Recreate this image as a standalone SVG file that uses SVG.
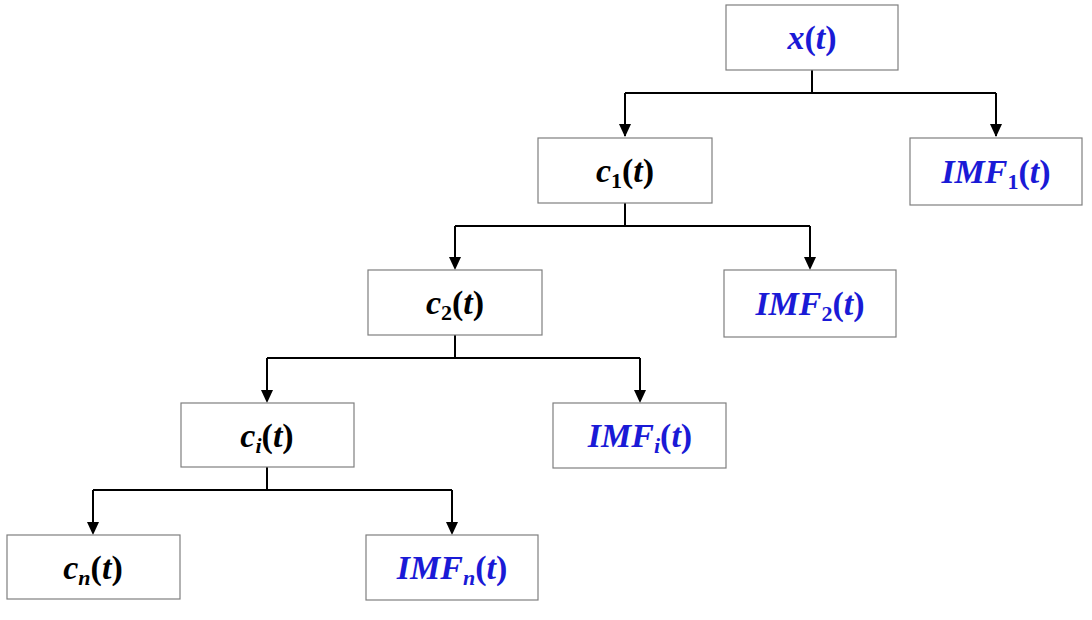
<svg xmlns="http://www.w3.org/2000/svg" width="1092" height="620" viewBox="0 0 1092 620">
<style>
.box{fill:#fff;stroke:#7f7f7f;stroke-width:1.2}
.t{font-family:"Liberation Serif",serif;font-size:34px;font-weight:bold;text-anchor:middle}
.b{fill:#1a1ad6}.k{fill:#000}
.i{font-style:italic}
.s{font-size:22px}
.ln{fill:none;stroke:#000;stroke-width:2}
</style>
<defs><marker id="a" markerWidth="10" markerHeight="12" refX="5" refY="12" orient="auto-start-reverse" markerUnits="userSpaceOnUse" viewBox="0 0 10 12"><path d="M0,0L10,0L5,12z" fill="#000" transform="rotate(0)"/></marker></defs>
<g id="connectors">
<path class="ln" d="M812,70V93M625,93H996M625,93V136M996,93V136"/>
<path class="ln" d="M625,203V226M455,226H810M455,226V268M810,226V268"/>
<path class="ln" d="M455,335V358M267,358H640M267,358V401M640,358V401"/>
<path class="ln" d="M267,467V490M93,490H452M93,490V533M452,490V533"/>
<g fill="#000"><path d="M619,124H631L625,137z"/><path d="M990,124H1002L996,137z"/><path d="M449,257H461L455,270z"/><path d="M804,257H816L810,270z"/><path d="M261,390H273L267,403z"/><path d="M634,390H646L640,403z"/><path d="M87,522H99L93,535z"/><path d="M446,522H458L452,535z"/></g>
</g>
<g id="n_x"><rect class="box" x="726" y="5" width="172" height="65"/><text class="t b" x="812" y="49"><tspan class="i">x</tspan>(<tspan class="i">t</tspan>)</text></g>
<g id="n_c1"><rect class="box" x="538" y="138" width="174" height="65"/><text class="t k" x="625" y="182"><tspan class="i">c</tspan><tspan class="s" dy="6">1</tspan><tspan dy="-6">(</tspan><tspan class="i">t</tspan>)</text></g>
<g id="n_imf1"><rect class="box" x="910" y="138" width="172" height="67"/><text class="t b" x="996" y="183"><tspan class="i">IMF</tspan><tspan class="s" dy="6">1</tspan><tspan dy="-6">(</tspan><tspan class="i">t</tspan>)</text></g>
<g id="n_c2"><rect class="box" x="368" y="270" width="174" height="65"/><text class="t k" x="455" y="314"><tspan class="i">c</tspan><tspan class="s" dy="6">2</tspan><tspan dy="-6">(</tspan><tspan class="i">t</tspan>)</text></g>
<g id="n_imf2"><rect class="box" x="724" y="270" width="172" height="67"/><text class="t b" x="810" y="315"><tspan class="i">IMF</tspan><tspan class="s" dy="6">2</tspan><tspan dy="-6">(</tspan><tspan class="i">t</tspan>)</text></g>
<g id="n_ci"><rect class="box" x="181" y="403" width="173" height="64"/><text class="t k" x="267" y="447"><tspan class="i">c</tspan><tspan class="s i" dy="6">i</tspan><tspan dy="-6">(</tspan><tspan class="i">t</tspan>)</text></g>
<g id="n_imfi"><rect class="box" x="553" y="403" width="173" height="65"/><text class="t b" x="640" y="447"><tspan class="i">IMF</tspan><tspan class="s i" dy="6">i</tspan><tspan dy="-6">(</tspan><tspan class="i">t</tspan>)</text></g>
<g id="n_cn"><rect class="box" x="7" y="535" width="173" height="64"/><text class="t k" x="93" y="579"><tspan class="i">c</tspan><tspan class="s i" dy="6">n</tspan><tspan dy="-6">(</tspan><tspan class="i">t</tspan>)</text></g>
<g id="n_imfn"><rect class="box" x="366" y="535" width="172" height="65"/><text class="t b" x="452" y="579"><tspan class="i">IMF</tspan><tspan class="s i" dy="6">n</tspan><tspan dy="-6">(</tspan><tspan class="i">t</tspan>)</text></g>
</svg>
